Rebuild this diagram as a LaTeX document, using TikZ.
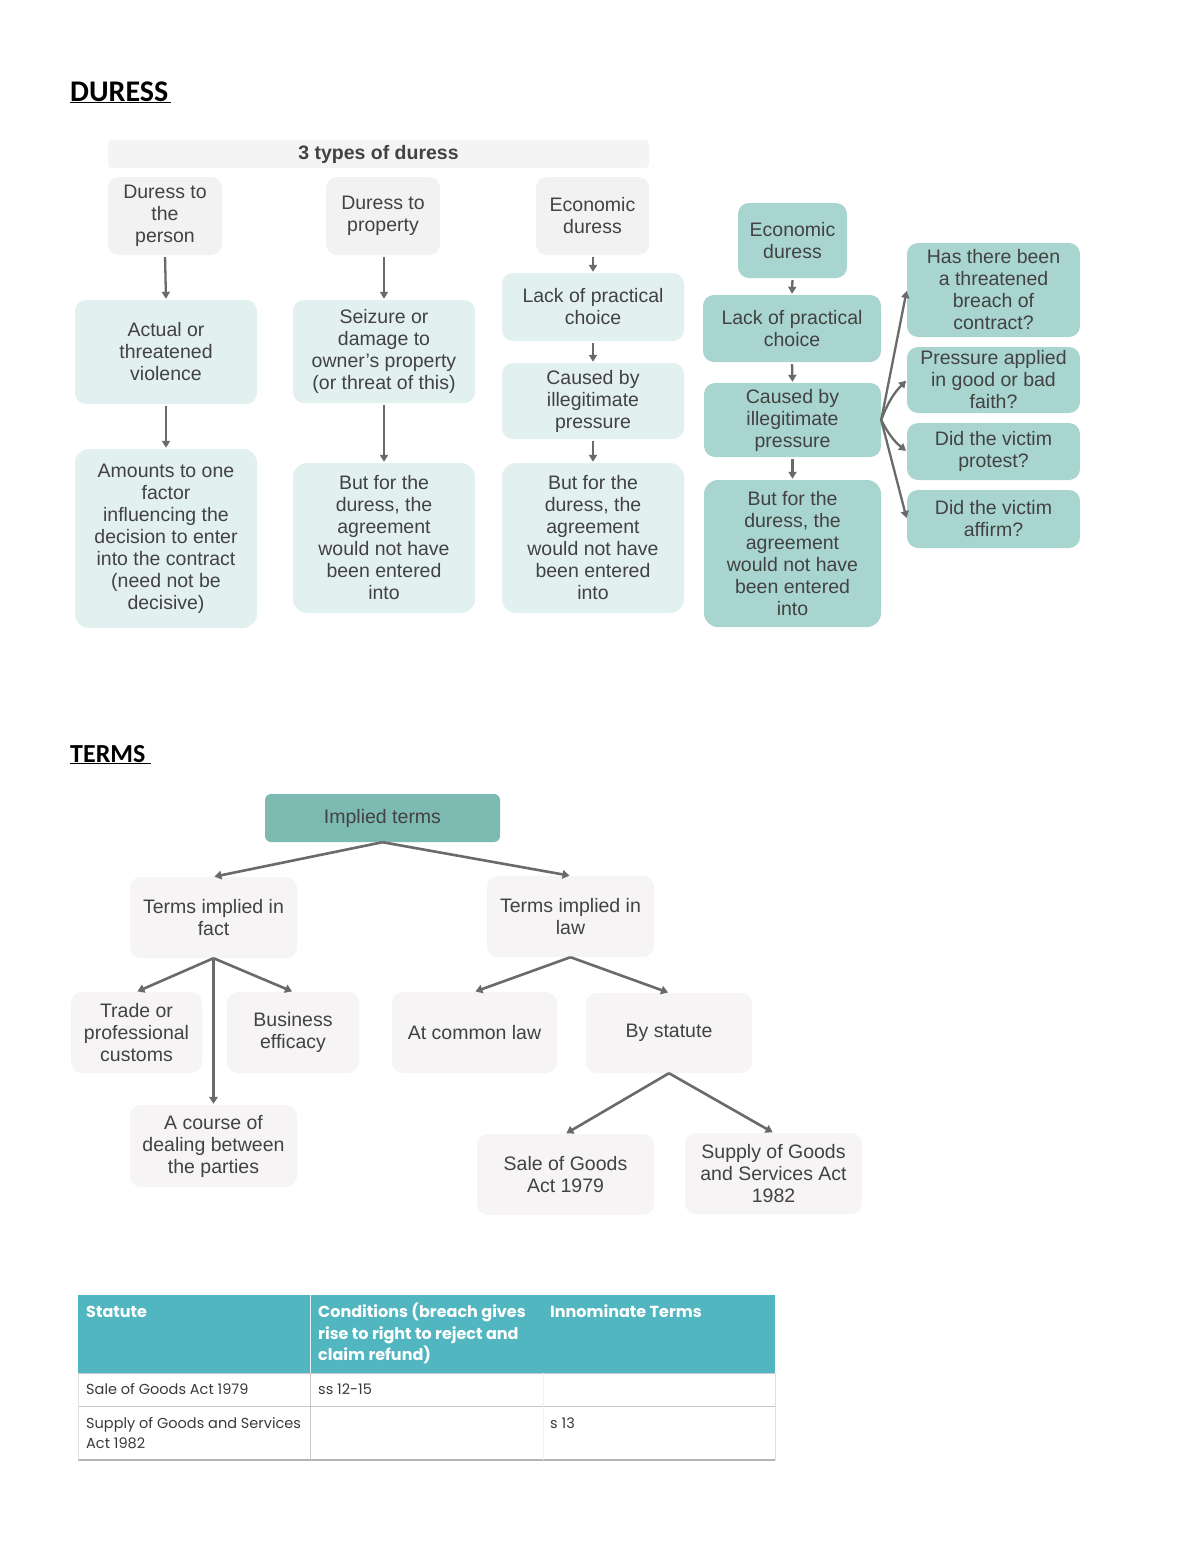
\documentclass[tikz,border=0pt]{standalone}
\usepackage{fontspec}
\setmainfont{Liberation Sans}
\newfontfamily\headfont{Carlito}
\newfontfamily\tabfont{Poppins}
\usetikzlibrary{arrows.meta}
\definecolor{txt}{HTML}{424242}
\definecolor{graybox}{HTML}{F2F2F2}
\definecolor{ltteal}{HTML}{E2F0F0}
\definecolor{dkteal}{HTML}{A9D5D0}
\definecolor{implied}{HTML}{7CBAB2}
\definecolor{termbox}{HTML}{F6F4F4}
\definecolor{arrc}{HTML}{6A6A6A}
\definecolor{tabhead}{HTML}{52B6C1}
\definecolor{tabline}{HTML}{C8C8C8}
\definecolor{tabtxt}{HTML}{3A3A3A}
\begin{document}
\begin{tikzpicture}[x=1pt,y=-1pt,
  box/.style={rounded corners=11pt, inner sep=0pt, align=center, text=txt,
    font=\fontsize{19.5}{22}\selectfont},
  gbox/.style={box, fill=graybox},
  lbox/.style={box, fill=ltteal},
  dbox/.style={box, fill=dkteal},
  tbox/.style={box, fill=termbox},
  ibox/.style={box, fill=implied, rounded corners=6pt},
  arr/.style={draw=arrc, line width=2.3pt, -{Triangle[length=7pt,width=8pt]},
    shorten <=2pt, shorten >=1pt},
  tarr/.style={draw=arrc, line width=2.6pt, -{Triangle[length=7pt,width=8.5pt]},
    shorten >=1pt},
  heading/.style={anchor=base west, inner sep=0pt, font=\headfont\bfseries\fontsize{30}{36}\selectfont},
  thead/.style={anchor=base west, inner sep=0pt, text=white, font=\tabfont\bfseries\fontsize{16}{19}\selectfont},
  tcell/.style={anchor=base west, inner sep=0pt, text=tabtxt, font=\tabfont\fontsize{14.5}{18}\selectfont}
]
\useasboundingbox (0,0) rectangle (1200,1553);
\fill[white] (0,0) rectangle (1200,1553);

% headings
\node[heading] (hd1) at (70,101) {\underline{DURESS\kern3pt}};
\node[heading, font=\headfont\bfseries\fontsize{26}{30}\selectfont] (hd2) at (70,762) {\underline{TERMS\ }};

% ---------------- DURESS ----------------
\node[box, fill=graybox!85!white, rounded corners=4pt, minimum width=541pt, minimum height=28pt,
  font=\bfseries\fontsize{19.5}{22}\selectfont] (hdr) at (378.5,154) {3 types of duress};

% column 1
\node[gbox, minimum width=114pt, minimum height=78pt] (c1a) at (165,216) {Duress to\\the\\person};
\node[lbox, minimum width=182pt, minimum height=104pt] (c1b) at (166,352) {Actual or\\threatened\\violence};
\node[lbox, minimum width=182pt, minimum height=179pt, rounded corners=14pt] (c1c) at (166,538.5)
  {Amounts to one\\factor\\influencing the\\decision to enter\\into the contract\\(need not be\\decisive)};
\draw[arr] (c1a.south) -- (c1b.north);
\draw[arr] (c1b.south) -- (c1c.north);

% column 2
\node[gbox, minimum width=114pt, minimum height=78pt] (c2a) at (383,216) {Duress to\\property};
\node[lbox, minimum width=182pt, minimum height=103pt] (c2b) at (384,351.5)
  {Seizure or\\damage to\\owner's property\\(or threat of this)};
\node[lbox, minimum width=182pt, minimum height=150pt, rounded corners=14pt] (c2c) at (384,538)
  {But for the\\duress, the\\agreement\\would not have\\been entered\\into};
\draw[arr] (c2a.south -| c2b.north) -- (c2b.north);
\draw[arr] (c2b.south) -- (c2c.north);

% column 3
\node[gbox, minimum width=113pt, minimum height=78pt] (c3a) at (592.5,216) {Economic\\duress};
\node[lbox, minimum width=182pt, minimum height=68pt] (c3b) at (593,307) {Lack of practical\\choice};
\node[lbox, minimum width=182pt, minimum height=76pt] (c3c) at (593,401) {Caused by\\illegitimate\\pressure};
\node[lbox, minimum width=182pt, minimum height=150pt, rounded corners=14pt] (c3d) at (593,538)
  {But for the\\duress, the\\agreement\\would not have\\been entered\\into};
\draw[arr] (c3a.south -| c3b.north) -- (c3b.north);
\draw[arr] (c3b.south) -- (c3c.north);
\draw[arr] (c3c.south) -- (c3d.north);

% right cluster
\node[dbox, minimum width=109pt, minimum height=75pt] (r1) at (792.5,240.5) {Economic\\duress};
\node[dbox, minimum width=178pt, minimum height=67pt] (r2) at (792,328.5) {Lack of practical\\choice};
\node[dbox, minimum width=177pt, minimum height=74pt] (r3) at (792.5,420) {Caused by\\illegitimate\\pressure};
\node[dbox, minimum width=177pt, minimum height=147pt, rounded corners=14pt] (r4) at (792.5,553.5)
  {But for the\\duress, the\\agreement\\would not have\\been entered\\into};
\node[dbox, minimum width=173pt, minimum height=94pt] (q1) at (993.5,290)
  {Has there been\\a threatened\\breach of\\contract?};
\node[dbox, minimum width=173pt, minimum height=66pt] (q2) at (993.5,380)
  {Pressure applied\\in good or bad\\faith?};
\node[dbox, minimum width=173pt, minimum height=57pt] (q3) at (993.5,451.5)
  {Did the victim\\protest?};
\node[dbox, minimum width=173pt, minimum height=58pt] (q4) at (993.5,519)
  {Did the victim\\affirm?};
\draw[arr] (r1.south) -- (r2.north);
\draw[arr] (r2.south) -- (r3.north);
\draw[arr] (r3.south) -- (r4.north);
\draw[arr, shorten <=0pt] (r3.east) -- (q1.west);
\draw[arr, shorten <=0pt] (r3.east) to[bend left=12] (q2.west);
\draw[arr, shorten <=0pt] (r3.east) to[bend right=12] (q3.west);
\draw[arr, shorten <=0pt] (r3.east) -- (q4.west);

% ---------------- TERMS ----------------
\node[ibox, minimum width=235pt, minimum height=48pt] (it) at (382.5,818) {Implied terms};
\node[tbox, minimum width=167pt, minimum height=81pt] (tf) at (213.5,917.5) {Terms implied in\\fact};
\node[tbox, minimum width=167pt, minimum height=81pt] (tl) at (570.5,916.5) {Terms implied in\\law};
\node[tbox, minimum width=131pt, minimum height=81pt] (t1) at (136.5,1032.5) {Trade or\\professional\\customs};
\node[tbox, minimum width=132pt, minimum height=81pt] (t2) at (293,1032.5) {Business\\efficacy};
\node[tbox, minimum width=167pt, minimum height=82pt] (t3) at (213.5,1146) {A course of\\dealing between\\the parties};
\node[tbox, minimum width=165pt, minimum height=81pt] (t4) at (474.5,1032.5) {At common law};
\node[tbox, minimum width=166pt, minimum height=80pt] (t5) at (669,1033) {By statute};
\node[tbox, minimum width=177pt, minimum height=81pt] (t6) at (565.5,1174.5) {Sale of Goods\\Act 1979};
\node[tbox, minimum width=177pt, minimum height=81pt] (t7) at (773.5,1173.5) {Supply of Goods\\and Services Act\\1982};
\draw[tarr] (it.south) -- (tf.north);
\draw[tarr] (it.south) -- (tl.north);
\draw[tarr] (tf.south) -- (t1.north);
\draw[tarr] (tf.south) -- (t2.north);
\draw[tarr] (tf.south) -- (t3.north);
\draw[tarr] (tl.south) -- (t4.north);
\draw[tarr] (tl.south) -- (t5.north);
\draw[tarr] (t5.south) -- (t6.north);
\draw[tarr] (t5.south) -- (t7.north);

% ---------------- TABLE ----------------
\fill[tabhead] (78,1295) rectangle (775,1373);
\draw[white!85!tabhead, line width=0.8pt] (310,1295) -- (310,1373);
\draw[tabline, line width=0.8pt] (78,1373) -- (775,1373);
\draw[tabline, line width=0.8pt] (78,1406) -- (775,1406);
\draw[tabline!90!black, line width=1.2pt] (78,1460) -- (775,1460);
\draw[tabline!60!white, line width=0.8pt] (78,1373) -- (78,1460);
\draw[tabline!60!white, line width=0.8pt] (775,1373) -- (775,1460);
\draw[tabline, line width=1pt] (310,1373) -- (310,1460);
\draw[tabline!25!white, line width=0.6pt] (543,1373) -- (543,1460);

\node[thead] (h1) at (86,1317) {Statute};
\node[thead] (h2a) at (318,1317) {Conditions (breach gives};
\node[thead] (h2b) at (318,1339) {rise to right to reject and};
\node[thead] (h2c) at (318,1360) {claim refund)};
\node[thead] (h3) at (550,1317) {Innominate Terms};
\node[tcell] (b1) at (86,1394) {Sale of Goods Act 1979};
\node[tcell] (b2) at (318,1394) {ss 12-15};
\node[tcell] (b3a) at (86,1428) {Supply of Goods and Services};
\node[tcell] (b3b) at (86,1448) {Act 1982};
\node[tcell] (b4) at (550,1428) {s 13};
\end{tikzpicture}
\end{document}
